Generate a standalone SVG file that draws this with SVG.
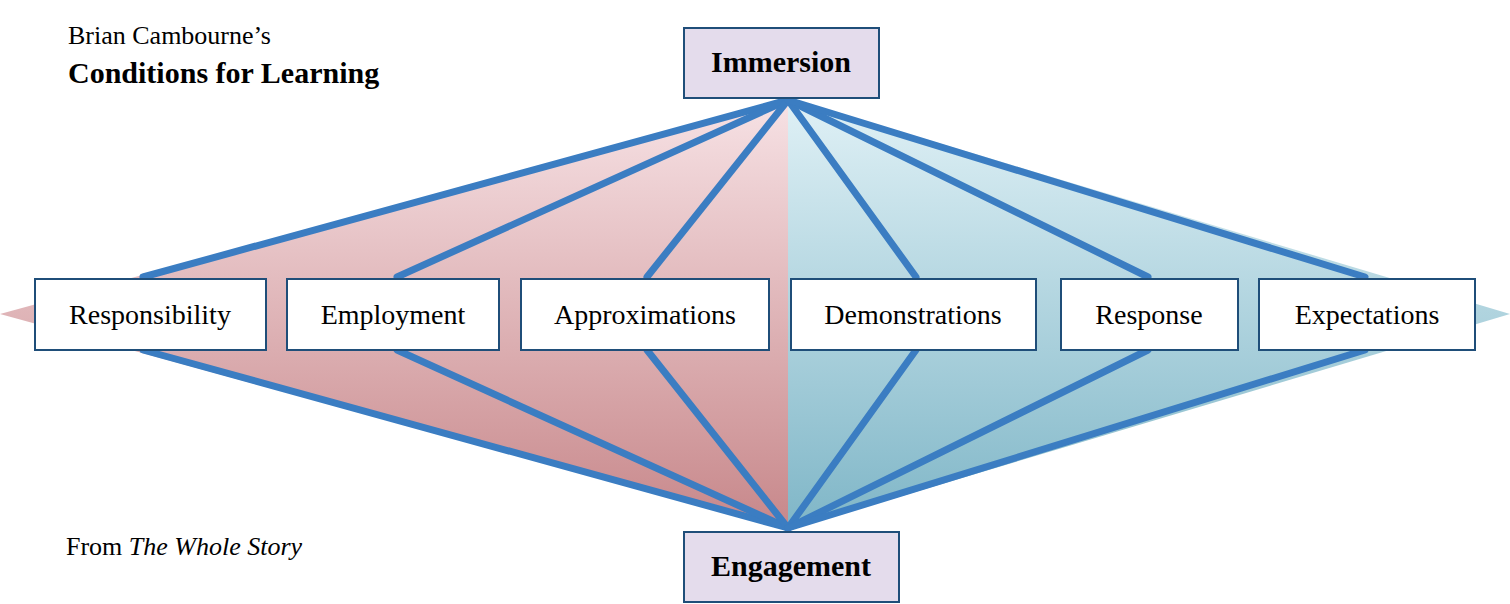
<svg xmlns="http://www.w3.org/2000/svg" width="1510" height="604" viewBox="0 0 1510 604">
<style>
.n{fill:#fff;stroke:#1f4e79;stroke-width:2}
.h{fill:#e4dcec;stroke:#1f4e79;stroke-width:2}
.t{font-family:"Liberation Serif",serif;font-size:28px;fill:#000;text-anchor:middle}
.b{font-weight:bold;font-size:30px}
.c line{stroke:#3b7dc2;stroke-width:7;stroke-linecap:round}
</style>
<defs>
<linearGradient id="gl" x1="0" y1="0" x2="0" y2="1"><stop offset="0" stop-color="#f7e2e5"/><stop offset="1" stop-color="#c7878a"/></linearGradient>
<linearGradient id="gr" x1="0" y1="0" x2="0" y2="1"><stop offset="0" stop-color="#e0f1f6"/><stop offset="1" stop-color="#7fb6c7"/></linearGradient>
</defs>
<polygon points="0,314 788,98 788,530" fill="url(#gl)"/>
<polygon points="1510,314 788,98 788,530" fill="url(#gr)"/>
<g class="c">
<line x1="788" y1="100" x2="143" y2="277"/><line x1="788" y1="100" x2="397" y2="277"/><line x1="788" y1="100" x2="647" y2="277"/>
<line x1="788" y1="100" x2="916" y2="277"/><line x1="788" y1="100" x2="1148" y2="277"/><line x1="788" y1="100" x2="1365" y2="277"/>
<line x1="788" y1="528" x2="143" y2="350"/><line x1="788" y1="528" x2="397" y2="350"/><line x1="788" y1="528" x2="647" y2="350"/>
<line x1="788" y1="528" x2="916" y2="350"/><line x1="788" y1="528" x2="1148" y2="350"/><line x1="788" y1="528" x2="1365" y2="350"/>
</g>
<g id="immersion"><rect class="h" x="684" y="28" width="195" height="70"/><text class="t b" x="781" y="72">Immersion</text></g>
<g id="engagement"><rect class="h" x="684" y="532" width="215" height="70"/><text class="t b" x="791" y="576">Engagement</text></g>
<g id="responsibility"><rect class="n" x="35" y="279" width="231" height="71"/><text class="t" x="150" y="324">Responsibility</text></g>
<g id="employment"><rect class="n" x="287" y="279" width="212" height="71"/><text class="t" x="393" y="324">Employment</text></g>
<g id="approximations"><rect class="n" x="521" y="279" width="248" height="71"/><text class="t" x="645" y="324">Approximations</text></g>
<g id="demonstrations"><rect class="n" x="791" y="279" width="245" height="71"/><text class="t" x="913" y="324">Demonstrations</text></g>
<g id="response"><rect class="n" x="1061" y="279" width="177" height="71"/><text class="t" x="1149" y="324">Response</text></g>
<g id="expectations"><rect class="n" x="1259" y="279" width="216" height="71"/><text class="t" x="1367" y="324">Expectations</text></g>
<text class="t" x="68" y="44" style="text-anchor:start;font-size:26px">Brian Cambourne’s</text>
<text class="t b" x="68" y="83" style="text-anchor:start">Conditions for Learning</text>
<text class="t" x="66" y="555" style="text-anchor:start;font-size:26px">From <tspan font-style="italic">The Whole Story</tspan></text>
</svg>
